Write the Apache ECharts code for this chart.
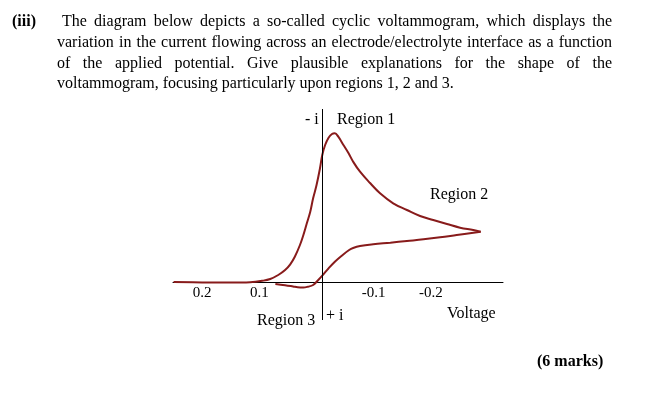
<!DOCTYPE html>
<html><head><meta charset="utf-8">
<script src="https://cdn.jsdelivr.net/npm/echarts@6/dist/echarts.min.js"></script>
<style>html,body{margin:0;padding:0;background:#fff}#c{width:663px;height:394px}</style>
</head><body><div id="c"></div>
<script>
// ---- data (voltage in V, current in arbitrary units; -i plotted upward) ----
const voltageTicks = [0.2, 0.1, -0.1, -0.2];
const forwardScan = [
  [0.250, 0.000], [0.200, -0.004], [0.150, -0.006], [0.116, -0.002],
  [0.095, 0.012], [0.081, 0.030], [0.067, 0.070], [0.055, 0.120],
  [0.046, 0.177], [0.038, 0.253], [0.029, 0.370], [0.023, 0.470],
  [0.017, 0.587], [0.011, 0.703], [0.006, 0.837], [0.000, 0.970],
  [-0.006, 1.137], [-0.010, 1.270], [-0.015, 1.370], [-0.021, 1.443],
  [-0.027, 1.480], [-0.032, 1.487], [-0.038, 1.453], [-0.047, 1.370],
  [-0.056, 1.287], [-0.064, 1.203], [-0.076, 1.103], [-0.094, 0.987],
  [-0.111, 0.887], [-0.134, 0.787], [-0.158, 0.720], [-0.181, 0.660],
  [-0.204, 0.620], [-0.228, 0.580], [-0.251, 0.543], [-0.274, 0.520],
  [-0.287, 0.503]
];
const reverseScan = [
  [-0.287, 0.503], [-0.245, 0.470], [-0.216, 0.447], [-0.187, 0.427],
  [-0.158, 0.410], [-0.129, 0.393], [-0.099, 0.377], [-0.076, 0.359],
  [-0.064, 0.340], [-0.057, 0.320], [-0.044, 0.263], [-0.032, 0.203],
  [-0.021, 0.137], [-0.010, 0.063], [-0.003, 0.020], [0.006, -0.030],
  [0.015, -0.047], [0.023, -0.055], [0.033, -0.053], [0.041, -0.045],
  [0.055, -0.032], [0.072, -0.020]
];
const currentAxisAt = -0.01;   // voltage where the current axis is drawn
const questionLines = [
  'The diagram below depicts a so-called cyclic voltammogram, which displays the',
  'variation in the current flowing across an electrode/electrolyte interface as a function',
  'of the applied potential. Give plausible explanations for the shape of the',
  'voltammogram, focusing particularly upon regions 1, 2 and 3.'
];
const questionNumber = '(iii)';
const marksText = '(6 marks)';
const chartLabels = ['- i', 'Region 1', 'Region 2', 'Region 3', '+ i', 'Voltage'];

// ---- layout / styles ----
const SERIF = '"Liberation Serif", "Times New Roman", serif';
const FONT = '16px ' + SERIF;
const BOLD = 'bold 16px ' + SERIF;
const CURVE = '#881b1b';

const ctx = document.createElement('canvas').getContext('2d');
ctx.font = FONT;
function txt(t, x, y, font, align) {
  return {
    type: 'text', x: x, y: y, silent: true,
    style: { text: t, font: font, fill: '#000', align: align, textAlign: align,
             verticalAlign: 'middle', textVerticalAlign: 'middle' }
  };
}
function lineWords(line, x0, x1, y, justify) {
  const words = line.split(' ');
  const widths = words.map(w => ctx.measureText(w).width);
  const total = widths.reduce((a, b) => a + b, 0);
  const gap = justify ? (x1 - x0 - total) / (words.length - 1) : ctx.measureText(' ').width;
  let x = x0;
  return words.map((w, i) => {
    const el = txt(w, x, y, FONT, 'left');
    x += widths[i] + gap;
    return el;
  });
}

const lineY = [22, 42.7, 63.3, 84];
const lineX0 = [62, 57, 57, 57];
let graphics = [];
questionLines.forEach((l, i) => {
  graphics = graphics.concat(lineWords(l, lineX0[i], 612, lineY[i], i < 3));
});
graphics.push(txt(questionNumber, 12, 22, BOLD, 'left'));
graphics.push(txt(marksText, 537, 362, BOLD, 'left'));
const labelPos = [[305, 119.5], [337, 120], [430, 195], [257, 321], [326, 316], [447, 313.5]];
chartLabels.forEach((t, i) => graphics.push(txt(t, labelPos[i][0], labelPos[i][1], FONT, 'left')));

const chart = echarts.init(document.getElementById('c'), null, { renderer: 'canvas' });
chart.setOption({
  animation: false,
  backgroundColor: '#fff',
  grid: { left: 173, right: 160, top: 109, bottom: 74, containLabel: false },
  xAxis: {
    type: 'value', inverse: true, min: -0.326, max: 0.251,
    offset: -38,
    axisLine: { show: true, onZero: false, lineStyle: { color: '#000', width: 1 } },
    axisTick: { show: false },
    splitLine: { show: false },
    axisLabel: {
      customValues: voltageTicks, margin: 4,
      fontFamily: SERIF, fontSize: 15, color: '#000',
      formatter: v => String(v)
    }
  },
  yAxis: {
    type: 'value', min: -0.38, max: 1.73,
    axisLine: { show: false }, axisTick: { show: false },
    axisLabel: { show: false }, splitLine: { show: false }
  },
  series: [
    {
      type: 'line', data: forwardScan, smooth: 0.4, showSymbol: false,
      lineStyle: { color: CURVE, width: 2 }, silent: true,
      markLine: {
        silent: true, symbol: ['none', 'none'], label: { show: false },
        lineStyle: { color: '#000', width: 1, type: 'solid' },
        data: [{ xAxis: currentAxisAt }]
      }
    },
    {
      type: 'line', data: reverseScan, smooth: 0.4, showSymbol: false,
      lineStyle: { color: CURVE, width: 2 }, silent: true
    }
  ],
  graphic: graphics
});
</script>
</body></html>
